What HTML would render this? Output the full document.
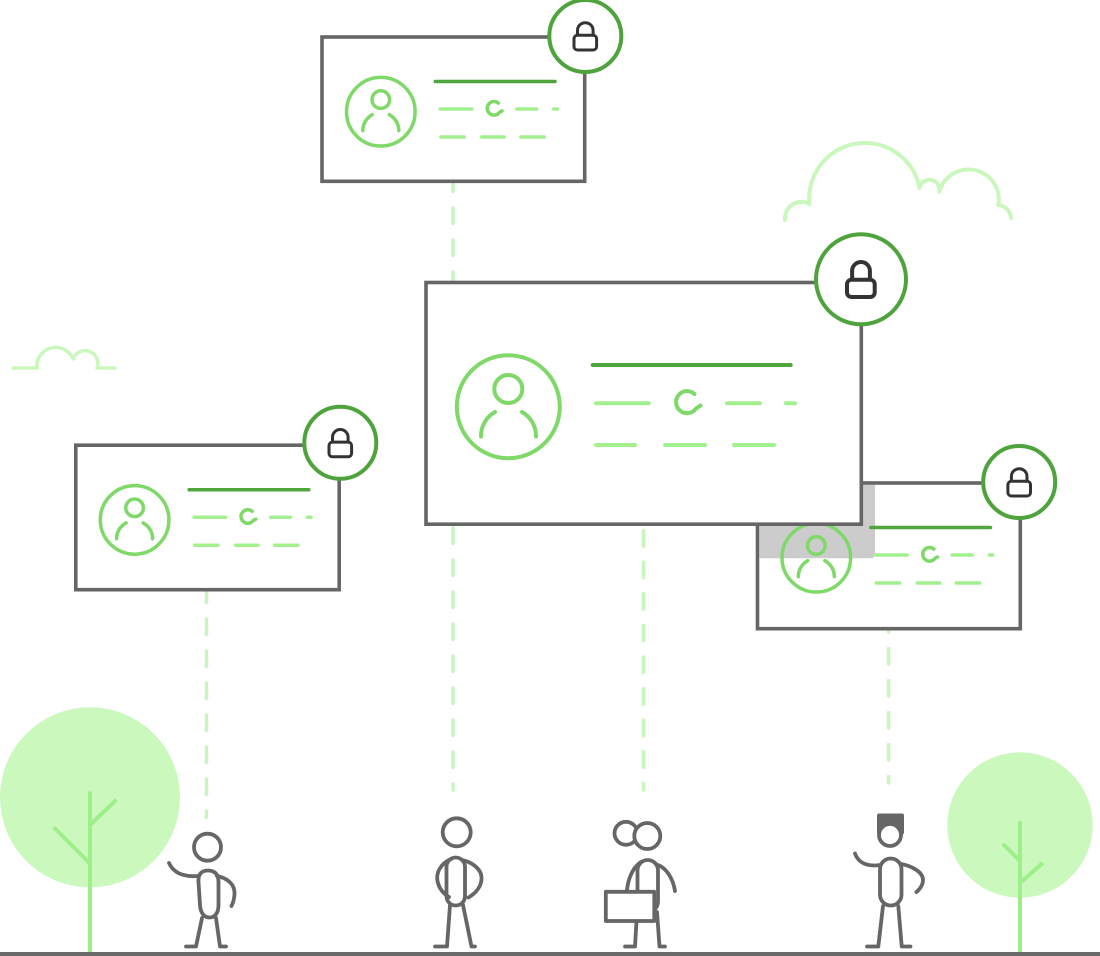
<!DOCTYPE html>
<html><head><meta charset="utf-8">
<style>
html,body{margin:0;padding:0;background:#fff;}
svg{display:block}
.av{fill:none;stroke:#7ed968;stroke-width:3.5;stroke-linecap:round}
.avb{fill:none;stroke:#7ed968;stroke-width:4;stroke-linecap:round}
.tl{stroke:#4fa63d;stroke-width:3.5;stroke-linecap:round}
.tlb{stroke:#4fa63d;stroke-width:4;stroke-linecap:round}
.ds{fill:none;stroke:#a3f08e;stroke-width:3.5;stroke-linecap:round}
.dsb{fill:none;stroke:#a3f08e;stroke-width:4;stroke-linecap:round}
.cb{fill:#fff;stroke:#666;stroke-width:3.6}
.lr{fill:#fff;stroke:#4fa33d;stroke-width:4}
.lk{fill:none;stroke:#333;stroke-width:3;stroke-linejoin:round}
.lkb{fill:none;stroke:#333;stroke-width:4;stroke-linejoin:round}
.pp{fill:none;stroke:#666;stroke-width:3.8;stroke-linecap:round;stroke-linejoin:round}
.cn{fill:none;stroke:#c9f6bc;stroke-width:3.5;stroke-linecap:round;stroke-dasharray:15.5 16.5}
.cl{fill:none;stroke:#c9f7bc;stroke-width:4;stroke-linecap:round;stroke-linejoin:round}
.tr{fill:none;stroke:#9eef8a;stroke-width:4;stroke-linecap:round}
</style></head>
<body>
<svg width="1100" height="956" viewBox="0 0 1100 956" xmlns="http://www.w3.org/2000/svg">

<!-- clouds -->
<path class="cl" d="M785,220 A16.5,16.5 0 0 1 809.5,204 A55.5,55.5 0 0 1 865,143 A55.5,55.5 0 0 1 919.5,188 A10,10 0 0 1 939.3,191.7 A30,30 0 0 1 969,169.5 A30,30 0 0 1 998.3,205 A14,14 0 0 1 1011,218"/>
<path class="cl" style="stroke-width:3.5" d="M13,368 H37 A18.5,18.5 0 0 1 55,347.5 A18.5,18.5 0 0 1 73,359 A12.5,12.5 0 0 1 97,368 H115"/>

<!-- trees -->
<circle cx="90" cy="797.3" r="90" fill="#caf8bd"/>
<path class="tr" d="M90,793.3 V953 M55,828.5 L89.5,863 M90,825 L115,801"/>
<circle cx="1020" cy="825" r="72.7" fill="#caf8bd"/>
<path class="tr" d="M1020,823 V953 M1004,845 L1020,861 M1020,883 L1041.5,864"/>

<!-- connectors -->
<line class="cn" x1="453" y1="175.75" x2="453" y2="790"/>
<line class="cn" x1="643.5" y1="499" x2="643.5" y2="790" style="stroke-dasharray:15.5 16.1"/>
<line class="cn" x1="206.5" y1="587" x2="206.5" y2="817.3"/>
<line class="cn" x1="888.5" y1="616.5" x2="888.5" y2="783"/>

<!-- ground -->
<rect x="0" y="952" width="1100" height="4" fill="#6a6a6a"/>

<!-- person 1 -->
<g class="pp">
<circle cx="207.5" cy="847.2" r="13.5" fill="#fff"/>
<path d="M200,905 L198.5,882 C198,874 201.5,870.5 208,870.5 C214.5,870.5 218.5,874 218.5,882 L218.5,905 C218.5,913.5 214.5,917.5 209.5,917.5 C204.5,917.5 200.5,913.5 200,905 Z"/>
<path d="M198,876 C185,877 174,874 169,863"/>
<path d="M217,876 C227,878 234.5,884 234.5,893 C234.5,898 233.5,902 231.5,906"/>
<path d="M202,918 L196,946.5 L186,946.5 M216,918 L220,946.5 L226,946.5"/>
</g>

<!-- person 2 -->
<g class="pp">
<circle cx="456.7" cy="832.3" r="14" fill="#fff"/>
<rect x="446.5" y="857.5" width="18.5" height="48" rx="9.25"/>
<path d="M451,859 C440,864 436,873 437.5,881 C439,889 444,894 449,897"/>
<path d="M462,860 C472,862 481,869 481.5,877 C482,886 476,893 468.5,897.5"/>
<path d="M450,905 L447,946.5 L435,946.5 M463,905 L471.5,946.5 L475,946.5"/>
</g>

<!-- person 3 -->
<g class="pp">
<circle cx="626" cy="833.3" r="11.5" fill="#fff"/>
<circle cx="647.3" cy="836" r="13" fill="#fff"/>
<rect x="637.5" y="860" width="20.5" height="52" rx="10.25"/>
<path d="M641,862 C632,868 628,880 627,890"/>
<path d="M658,865 C666,868 673,878 675,891"/>
<path d="M636.5,921 L635,946.5 L625,946.5 M657,912 L659.5,946.5 L665,946.5"/>
<rect x="605.8" y="891.8" width="48.5" height="29.2" fill="#fff"/>
</g>

<!-- person 4 -->
<g class="pp">
<rect x="877" y="813.5" width="27" height="21" rx="2" fill="#666" stroke="none"/>
<circle cx="890" cy="835" r="11" fill="#fff"/>
<rect x="880" y="858.5" width="21.5" height="47" rx="10.75"/>
<path d="M855,853.5 C858,862 866,867 880,865"/>
<path d="M901,864 C912,866 923,872 923,880 C923,885 920,889 916.5,892"/>
<path d="M883,906 L878.3,946.5 L867,946.5 M898.3,906 L901.7,946.5 L910.5,946.5"/>
</g>

<!-- left card -->
<rect class="cb" x="75.8" y="445.2" width="263.4" height="144.5"/>
<g transform="translate(75.8,445.2)">
<circle cx="58.8" cy="74.7" r="34.3" class="av"/>
<circle cx="58.8" cy="62.6" r="8.8" class="av"/>
<path class="av" d="M40.8,93.6 A18,18 0 0 1 50.3,77.7 M67.3,77.7 A18,18 0 0 1 76.8,93.6"/>
<path class="av" d="M176.4,66.1 A6.8,6.8 0 1 0 177.6,75.2 L180,74"/>
<line class="tl" x1="113.3" y1="44.5" x2="233" y2="44.5"/>
<path class="ds" d="M118.3,72 H149.7 M194.8,72 H214.7 M231.8,72 H235.2 M118.8,100 H142.2 M159.8,100 H182.2 M198.8,100 H222.2"/>
</g>
<g transform="translate(340.3,442.8)">
<circle class="lr" cx="0" cy="0" r="36"/>
<rect class="lk" x="-11.3" y="-0.7" width="22.6" height="14.7" rx="3.5"/>
<path class="lk" d="M-7.8,-0.7 V-5.5 A7.8,7.8 0 0 1 7.8,-5.5 V-0.7"/>
</g>

<!-- top card -->
<rect class="cb" x="322" y="37" width="262.7" height="144.3"/>
<g transform="translate(322,37)">
<circle cx="58.8" cy="74.7" r="34.3" class="av"/>
<circle cx="58.8" cy="62.6" r="8.8" class="av"/>
<path class="av" d="M40.8,93.6 A18,18 0 0 1 50.3,77.7 M67.3,77.7 A18,18 0 0 1 76.8,93.6"/>
<path class="av" d="M176.4,66.1 A6.8,6.8 0 1 0 177.6,75.2 L180,74"/>
<line class="tl" x1="113.3" y1="44.5" x2="233" y2="44.5"/>
<path class="ds" d="M118.3,72 H149.7 M194.8,72 H214.7 M231.8,72 H235.2 M118.8,100 H142.2 M159.8,100 H182.2 M198.8,100 H222.2"/>
</g>
<g transform="translate(585.3,36)">
<circle class="lr" cx="0" cy="0" r="36"/>
<rect class="lk" x="-11.3" y="-0.7" width="22.6" height="14.7" rx="3.5"/>
<path class="lk" d="M-7.8,-0.7 V-5.5 A7.8,7.8 0 0 1 7.8,-5.5 V-0.7"/>
</g>

<!-- right card -->
<rect class="cb" x="757.5" y="483" width="262.8" height="145.7"/>
<path d="M759.4,485 H875 V554 Q875,558.3 871,558.3 H759.4 Z" fill="#cccccc"/>
<g transform="translate(757.5,483)">
<circle cx="58.8" cy="74.7" r="34.3" class="av"/>
<circle cx="58.8" cy="62.6" r="8.8" class="av"/>
<path class="av" d="M40.8,93.6 A18,18 0 0 1 50.3,77.7 M67.3,77.7 A18,18 0 0 1 76.8,93.6"/>
<path class="av" d="M176.4,66.1 A6.8,6.8 0 1 0 177.6,75.2 L180,74"/>
<line class="tl" x1="113.3" y1="44.5" x2="233" y2="44.5"/>
<path class="ds" d="M118.3,72 H149.7 M194.8,72 H214.7 M231.8,72 H235.2 M118.8,100 H142.2 M159.8,100 H182.2 M198.8,100 H222.2"/>
</g>
<g transform="translate(1019.2,482)">
<circle class="lr" cx="0" cy="0" r="36"/>
<rect class="lk" x="-11.3" y="-0.7" width="22.6" height="14.7" rx="3.5"/>
<path class="lk" d="M-7.8,-0.7 V-5.5 A7.8,7.8 0 0 1 7.8,-5.5 V-0.7"/>
</g>

<!-- big card -->
<rect class="cb" x="426" y="282.5" width="435.3" height="241.7"/>
<circle cx="508.3" cy="406.7" r="51.5" class="avb"/>
<circle cx="508.3" cy="389" r="14" class="avb"/>
<path class="avb" d="M481,436.5 A27.5,27.5 0 0 1 495,412 M522,412 A27.5,27.5 0 0 1 536,436.5"/>
<path class="avb" d="M694.4,394 A11,11 0 1 0 696,408.5 L700.5,405.5"/>
<line class="tlb" x1="592.7" y1="365" x2="790.7" y2="365"/>
<path class="dsb" d="M596,403.3 H648.7 M727,403.3 H760 M786,403.3 H795 M596,445 H635 M665,445 H705 M734,445 H774"/>
<g transform="translate(861,279.3)">
<circle class="lr" cx="0" cy="0" r="45"/>
<rect class="lkb" x="-14" y="0.4" width="27.7" height="17.3" rx="4.5"/>
<path class="lkb" d="M-8.9,0.4 V-8.4 A8.9,8.9 0 0 1 8.9,-8.4 V0.4"/>
</g>

</svg>
</body></html>
